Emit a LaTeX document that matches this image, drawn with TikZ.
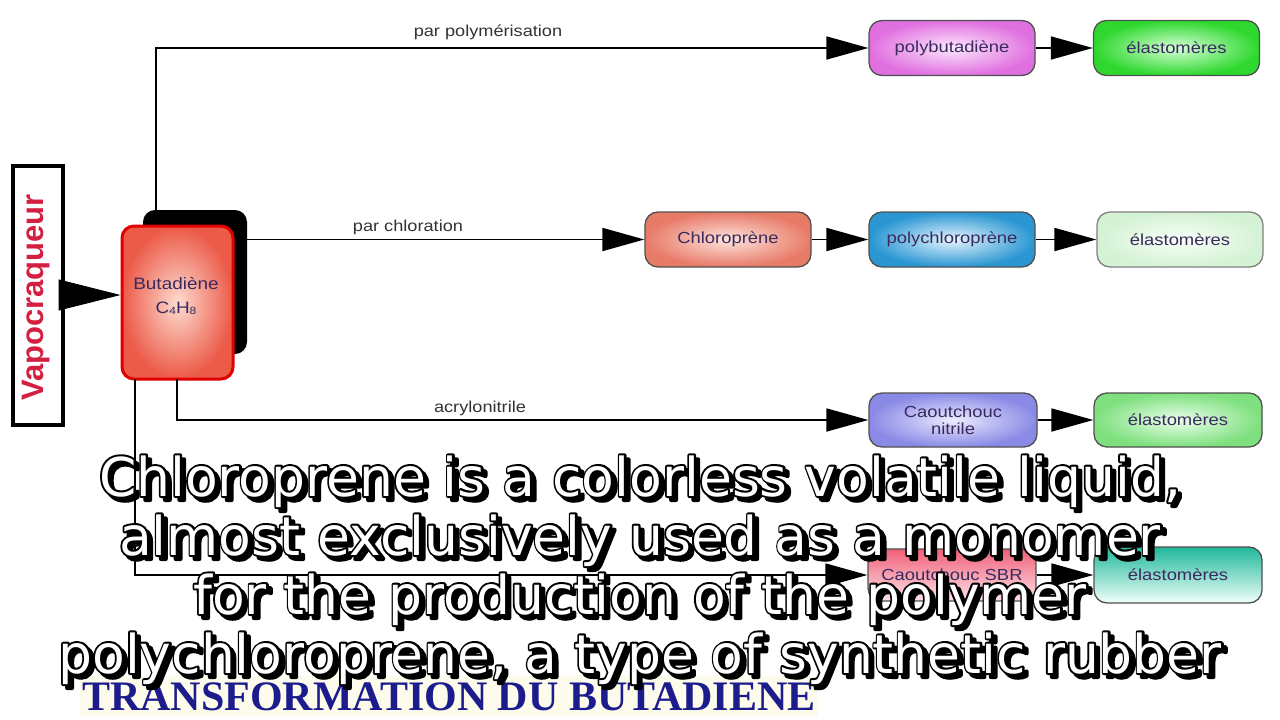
\documentclass[tikz,border=0pt]{standalone}
\usepackage{fontspec}
\setmainfont{Liberation Sans}
\newfontfamily\wsans[FakeStretch=1.15]{Liberation Sans}
\newfontfamily\subfont{DejaVu Sans}
\newfontfamily\titlefont{Liberation Serif}
\usetikzlibrary{arrows.meta}
\definecolor{vapored}{HTML}{D42040}
\definecolor{titleblue}{HTML}{1C1C8C}
\definecolor{nodetext}{HTML}{3A2A5E}
\definecolor{labtext}{HTML}{333333}
\definecolor{boxedge}{HTML}{505050}
\definecolor{titlebg}{HTML}{FCFBEC}
% text render modes for the outlined subtitle (xdvipdfmx literal)
\newcommand\trmode[2]{\special{pdf:literal direct 1 j #2 w 0 0 0 RG #1 Tr}}
\newcommand\trreset{\special{pdf:literal direct 0 Tr}}
\tikzset{
  pnode/.style={rounded corners=13pt, draw=boxedge, line width=1.3pt,
    minimum width=166pt, minimum height=55pt, inner sep=0pt, align=center,
    font=\wsans\fontsize{16}{18}\selectfont, text=nodetext},
  conn/.style={line width=1.8pt, -{Triangle[length=42pt,width=23pt]}},
  lab/.style={font=\wsans\fontsize{15.8}{18}\selectfont, text=labtext},
  subline/.style={anchor=base, font=\subfont\fontsize{53.5}{54}\selectfont, inner sep=0pt},
}
\begin{document}
\begin{tikzpicture}[x=1pt,y=-1pt]
\useasboundingbox (0,0) rectangle (1280,720);
\fill[white] (0,0) rectangle (1280,720);

% Vapocraqueur
\node[draw=black, line width=4pt, minimum width=50pt, minimum height=259pt, inner sep=0pt] (vapo) at (38,295) {};
\node[rotate=90, anchor=base, text=vapored, font=\bfseries\fontsize{31}{31}\selectfont, inner sep=0pt] (vapotext) at (43,297.5) {Vapocraqueur};

% Butadiene with shadow
\node[fill=black, rounded corners=12pt, minimum width=104pt, minimum height=144pt, inner sep=0pt] (butsh) at (195,282) {};
\node[rounded corners=12pt, draw={rgb,255:red,224;green,0;blue,0}, line width=3pt,
  inner color={rgb,255:red,253;green,220;blue,208}, outer color={rgb,255:red,236;green,90;blue,72},
  minimum width=111pt, minimum height=153pt, inner sep=0pt] (but) at (177.5,302.5) {};
\node[align=center, text=nodetext, font=\wsans\fontsize{16.5}{24}\selectfont, inner sep=0pt] (buttext) at (176,296)
  {Butadiène\\C\raisebox{-0.05em}{\fontsize{10.5}{10}\selectfont 4}H\raisebox{-0.05em}{\fontsize{10.5}{10}\selectfont 8}};

% Product nodes
\node[pnode, inner color={rgb,255:red,253;green,232;blue,253}, outer color={rgb,255:red,224;green,112;blue,224}] (poly) at (952,48) {polybutadiène};
\node[pnode, inner color={rgb,255:red,214;green,255;blue,214}, outer color={rgb,255:red,46;green,216;blue,46}] (el1) at (1176.5,48) {élastomères};

\node[pnode, inner color={rgb,255:red,253;green,228;blue,220}, outer color={rgb,255:red,232;green,122;blue,104}] (chloro) at (728,239.5) {Chloroprène};
\node[pnode, inner color={rgb,255:red,230;green,246;blue,255}, outer color={rgb,255:red,42;green,150;blue,210}] (polychl) at (952,239.5) {polychloroprène};
\node[pnode, inner color={rgb,255:red,248;green,255;blue,248}, outer color={rgb,255:red,212;green,242;blue,212}, draw=gray] (el2) at (1180,239.5) {élastomères};

\node[pnode, inner color={rgb,255:red,236;green,236;blue,255}, outer color={rgb,255:red,138;green,138;blue,230}, minimum width=168pt, minimum height=54pt] (nitrile) at (953,420) {Caoutchouc\\[-1pt]nitrile};
\node[pnode, inner color={rgb,255:red,235;green,255;blue,235}, outer color={rgb,255:red,126;green,224;blue,126}, minimum width=168pt, minimum height=54pt] (el3) at (1178,420) {élastomères};

\node[pnode, top color={rgb,255:red,240;green,96;blue,120}, bottom color={rgb,255:red,255;green,224;blue,230}, minimum width=168pt, minimum height=52pt] (sbr) at (952,575) {Caoutchouc SBR};
\node[pnode, top color={rgb,255:red,32;green,184;blue,154}, bottom color={rgb,255:red,240;green,255;blue,250}, minimum width=168pt, minimum height=56pt] (el4) at (1178,575) {élastomères};

% Connectors
\draw[line width=1pt, -{Triangle[length=62pt,width=31pt]}] (vapo.east) -- (but.west |- vapo.east);
\coordinate (p1) at (156,210);
\coordinate (p3) at (177,379);
\coordinate (p4) at (135,379);
\draw[conn] (p1) |- (poly.west);
\draw[conn] (poly) -- (el1);
\draw[conn] (butsh.east |- chloro.west) -- (chloro.west);
\draw[conn] (chloro) -- (polychl);
\draw[conn] (polychl) -- (el2);
\draw[conn] (p3) |- (nitrile.west);
\draw[conn] (nitrile) -- (el3);
\draw[conn] (p4) |- (sbr.west);
\draw[conn] (sbr) -- (el4);

% Labels
\node[lab] (l1) at (488,32) {par polymérisation};
\node[lab] (l2) at (408,227) {par chloration};
\node[lab] (l3) at (480,408) {acrylonitrile};

% Title
\node[anchor=base west, fill=titlebg, inner xsep=2pt, inner ysep=6pt, text=titleblue, font=\titlefont\bfseries\fontsize{42}{42}\selectfont] (title) at (80,710) {TRANSFORMATION DU BUTADIENE};

% Subtitle overlay: shadow, black outline, white fill
\foreach \t [count=\i] in {{Chloroprene is a colorless volatile liquid,},{almost exclusively used as a monomer},{for the production of the polymer},{polychloroprene, a type of synthetic rubber}} {
  \node[subline, text=black] (subsh\i) at (644,{496+59*(\i-1)+4}) {\trmode{2}{4}\t\trreset};
  \node[subline, text=black] (subol\i) at (640,{496+59*(\i-1)}) {\trmode{1}{4}\t\trreset};
  \node[subline, text=white] (sub\i) at (640,{496+59*(\i-1)}) {\t};
}
\end{tikzpicture}
\end{document}
